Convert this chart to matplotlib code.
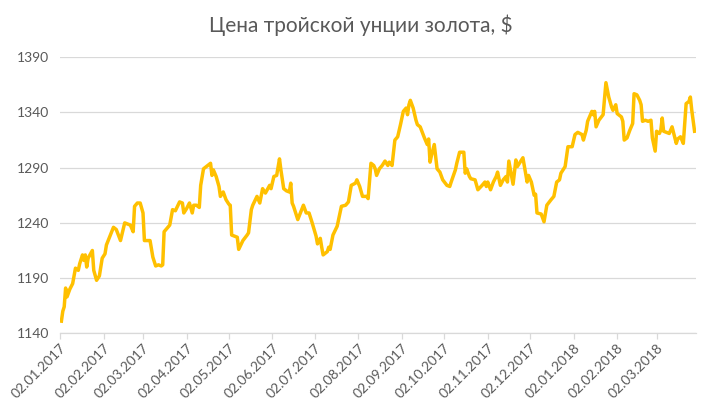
import numpy as np
import pandas as pd
import matplotlib
matplotlib.use("Agg")
import matplotlib.pyplot as plt
import matplotlib.dates as mdates

plt.rcParams['font.family'] = ['Lato', 'DejaVu Sans']

start = pd.Timestamp('2017-01-02')
title = 'Цена тройской унции золота, $'

# days after 02.01.2017 and price
days = [1, 2, 3, 4, 5, 7, 9, 11, 13, 14, 16, 17, 18, 19, 20, 23, 24, 26, 28, 30,
        32, 33, 38, 40, 43, 46, 50, 52, 53, 55, 57, 59, 60, 64, 66, 68, 70, 72, 73, 74,
        78, 80, 82, 85, 87, 88, 90, 92, 94, 95, 97, 99, 100, 102, 104, 107, 108, 109, 111, 113,
        114, 116, 118, 120, 121, 122, 126, 127, 130, 133, 134, 136, 137, 140, 142, 144, 146, 149, 150, 152,
        154, 156, 157, 159, 161, 163, 164, 165, 166, 169, 173, 175, 177, 179, 182, 183, 185, 186, 187, 190,
        191, 192, 194, 197, 200, 203, 205, 207, 210, 211, 213, 215, 218, 219, 221, 223, 224, 225, 227, 229,
        231, 233, 234, 236, 238, 240, 242, 244, 246, 247, 248, 249, 251, 253, 254, 256, 259, 261, 262, 263,
        264, 266, 268, 270, 272, 275, 277, 278, 281, 282, 284, 287, 288, 289, 291, 292, 295, 297, 300, 302,
        303, 304, 306, 308, 310, 311, 313, 315, 317, 318, 319, 321, 322, 324, 325, 327, 329, 332, 333, 335,
        337, 338, 339, 342, 344, 346, 349, 351, 353, 355, 356, 359, 361, 364, 366, 368, 371, 372, 374, 375,
        378, 379, 380, 381, 383, 386, 388, 390, 392, 393, 395, 396, 399, 400, 401, 403, 405, 407, 408, 410,
        412, 413, 414, 416, 418, 420, 421, 423, 424, 426, 427, 428, 429, 431, 433, 435, 438, 439, 441, 443,
        445, 447, 448, 449, 451]
price = [1151, 1160, 1164, 1181, 1173, 1180, 1185, 1199, 1197, 1203, 1211, 1206, 1211, 1200, 1208, 1215, 1197, 1188, 1192, 1208,
         1212, 1220, 1236, 1234, 1224, 1240, 1238, 1232, 1255, 1258, 1258, 1249, 1224, 1224, 1209, 1201, 1202, 1201, 1202, 1232,
         1238, 1252, 1251, 1259, 1258, 1249, 1253, 1258, 1249, 1256, 1256, 1254, 1274, 1289, 1291, 1294, 1283, 1288, 1282, 1273,
         1264, 1268, 1261, 1257, 1256, 1229, 1227, 1216, 1224, 1229, 1231, 1252, 1256, 1264, 1258, 1271, 1267, 1274, 1271, 1282,
         1283, 1298, 1288, 1271, 1269, 1268, 1276, 1258, 1255, 1243, 1256, 1249, 1249, 1241, 1228, 1221, 1226, 1218, 1211, 1214,
         1218, 1216, 1229, 1237, 1255, 1256, 1259, 1274, 1276, 1279, 1273, 1264, 1264, 1262, 1294, 1292, 1289, 1283, 1289, 1292,
         1296, 1292, 1295, 1292, 1315, 1318, 1329, 1341, 1344, 1338, 1347, 1351, 1344, 1333, 1329, 1327, 1317, 1311, 1316, 1295,
         1301, 1311, 1289, 1286, 1279, 1274, 1273, 1277, 1288, 1294, 1304, 1304, 1285, 1289, 1282, 1280, 1279, 1270, 1274, 1277,
         1273, 1277, 1270, 1277, 1282, 1286, 1274, 1279, 1282, 1277, 1296, 1282, 1275, 1297, 1291, 1295, 1299, 1277, 1283, 1277,
         1265, 1266, 1249, 1248, 1241, 1256, 1261, 1264, 1277, 1279, 1285, 1291, 1309, 1309, 1320, 1322, 1320, 1315, 1324, 1332,
         1341, 1338, 1341, 1327, 1333, 1338, 1367, 1354, 1345, 1342, 1347, 1339, 1336, 1332, 1315, 1317, 1324, 1330, 1357, 1356,
         1351, 1347, 1332, 1333, 1332, 1333, 1317, 1305, 1323, 1321, 1324, 1335, 1323, 1322, 1321, 1327, 1312, 1316, 1318, 1312,
         1348, 1350, 1354, 1342, 1323]

dates = start + pd.to_timedelta(days, unit='D')
tick_dates = pd.date_range('2017-01-01', '2018-03-01', freq='MS') + pd.Timedelta(days=1)
y_ticks = [1140, 1190, 1240, 1290, 1340, 1390]

grey = '#595959'
fig = plt.figure(figsize=(7.21, 4.08), dpi=100)
ax = fig.add_axes([0.0832, 0.1831, 0.8821, 0.6765])

ax.plot(dates, price, color='#FFC000', lw=2.5, solid_joinstyle='round')

ax.set_ylim(1140, 1390)
ax.set_yticks(y_ticks)
ax.set_xlim(start, start + pd.Timedelta(days=452))
ax.set_xticks(tick_dates)
ax.xaxis.set_major_formatter(mdates.DateFormatter('%d.%m.%Y'))

ax.grid(axis='y', color='#D9D9D9', lw=0.9)
ax.set_axisbelow(True)
for s in ['top', 'right', 'left']:
    ax.spines[s].set_visible(False)
ax.spines['bottom'].set_color('#D9D9D9')
ax.spines['bottom'].set_linewidth(0.9)

ax.tick_params(axis='y', length=0, pad=8, labelsize=10, labelcolor=grey)
ax.tick_params(axis='x', length=4, color='#D9D9D9', width=0.9, pad=2, labelsize=10, labelcolor=grey)
plt.setp(ax.get_xticklabels(), rotation=45, ha='right', rotation_mode='anchor')

fig.text(0.5, 0.937, title, ha='center', va='center', fontsize=15, color=grey)

fig.savefig('out.png', dpi=100)
